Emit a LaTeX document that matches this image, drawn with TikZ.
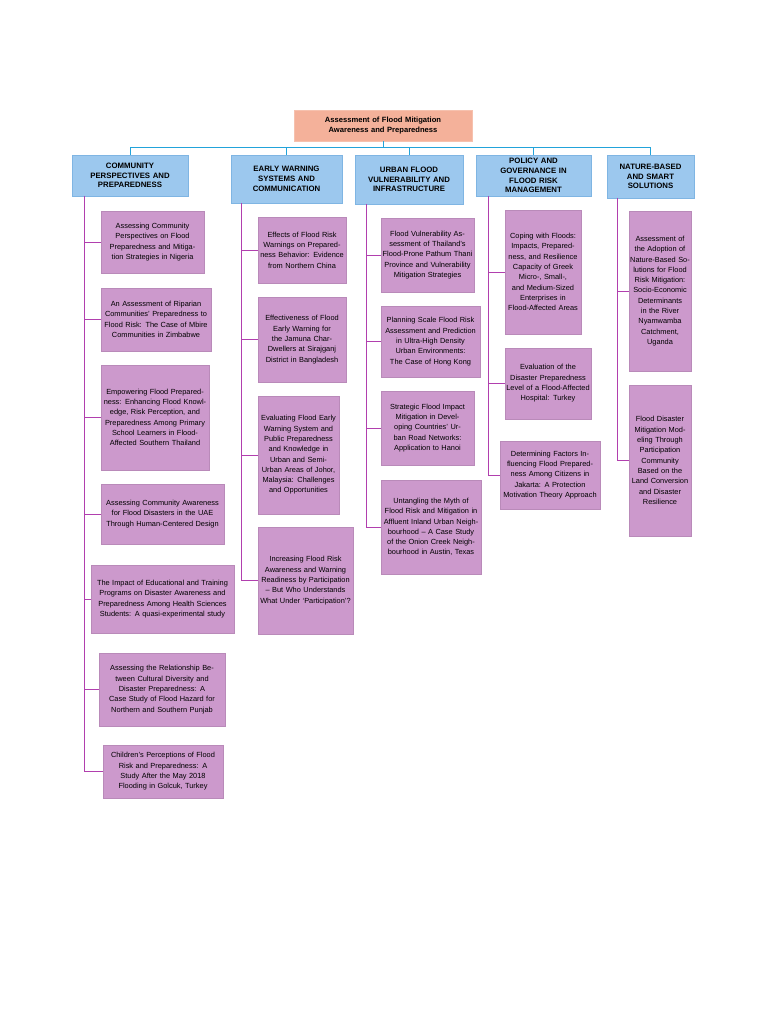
\documentclass[tikz,border=0pt]{standalone}
\usepackage{fontspec}
\setmainfont{Liberation Sans}
\definecolor{rootc}{HTML}{F4B19A}
\definecolor{headc}{HTML}{9CC8EE}
\definecolor{headb}{HTML}{7FB5E3}
\definecolor{kidc}{HTML}{CC99CC}
\definecolor{kidb}{HTML}{B98AB9}
\definecolor{linkb}{HTML}{22A3DA}
\definecolor{linkp}{HTML}{B13FAE}
\begin{document}
\begin{tikzpicture}[x=1pt,y=-1pt,
 root/.style={fill=rootc,draw=rootc!80!white,align=center,font=\fontsize{7.6}{9.5}\selectfont\bfseries,inner sep=1pt},
 head/.style={fill=headc,draw=headb,align=center,font=\fontsize{7.8}{9.8}\selectfont\bfseries,inner sep=1pt},
 kid/.style={fill=kidc,draw=kidb,align=center,font=\fontsize{7.4}{10.3}\selectfont,inner sep=1pt},
 bl/.style={draw=linkb,line width=1pt},
 pl/.style={draw=linkp,line width=0.9pt}]
\useasboundingbox (0,0) rectangle (768,1024);
\fill[white] (0,0) rectangle (768,1024);
\newcommand\bx[7]{\node[#1,anchor=center,text width=#4-#3-2pt,minimum width=#4-#3,minimum height=#6-#5] (#2) at ({(#3+#4)/2},{(#5+#6)/2}) {#7};}
\bx{root}{r}{294}{472}{110}{141}{Assessment of Flood Mitigation\\Awareness and Preparedness}
\bx{head}{h1}{72}{188}{155}{196}{COMMUNITY\\PERSPECTIVES AND\\PREPAREDNESS}
\bx{head}{h2}{231}{342}{155}{203}{EARLY WARNING\\SYSTEMS AND\\COMMUNICATION}
\bx{head}{h3}{355}{463}{155}{204}{URBAN FLOOD\\VULNERABILITY AND\\INFRASTRUCTURE}
\bx{head}{h4}{476}{591}{155}{196}{POLICY AND\\GOVERNANCE IN\\FLOOD RISK\\MANAGEMENT}
\bx{head}{h5}{607}{694}{155}{198}{NATURE-BASED\\AND SMART\\SOLUTIONS}
\coordinate (bus) at (0,148);
\foreach \h in {h1,h2,h3,h4,h5}{\draw[bl] (r.south) |- (bus -| \h.north) -- (\h.north);}
% column 1
\bx{kid}{a1}{101}{204}{211}{273}{Assessing Community Perspectives on Flood Preparedness and Mitigation Strategies in Nigeria}
\bx{kid}{a2}{101}{211}{288}{351}{An Assessment of Riparian Communities' Preparedness to Flood Risk: The Case of Mbire Communities in Zimbabwe}
\bx{kid}{a3}{101}{209}{365}{470}{Empowering Flood Preparedness: Enhancing Flood Knowledge, Risk Perception, and Preparedness Among Primary School Learners in Flood-Affected Southern Thailand}
\bx{kid}{a4}{101}{224}{484}{544}{Assessing Community Awareness for Flood Disasters in the UAE Through Human-Centered Design}
\bx{kid}{a5}{91}{234}{565}{633}{The Impact of Educational and Training Programs on Disaster Awareness and Preparedness Among Health Sciences Students: A quasi-experimental study}
\bx{kid}{a6}{99}{225}{653}{726}{Assessing the Relationship Between Cultural Diversity and Disaster Preparedness: A Case Study of Flood Hazard for Northern and Southern Punjab}
\bx{kid}{a7}{103}{223}{745}{798}{Children's Perceptions of Flood Risk and Preparedness: A Study After the May 2018 Flooding in Golcuk, Turkey}
% column 2
\bx{kid}{b1}{258}{346}{217}{283}{Effects of Flood Risk Warnings on Preparedness Behavior: Evidence from Northern China}
\bx{kid}{b2}{258}{346}{297}{382}{Effectiveness of Flood Early Warning for the Jamuna Char-Dwellers at Sirajganj District in Bangladesh}
\bx{kid}{b3}{258}{339}{396}{514}{Evaluating Flood Early Warning System and Public Preparedness and Knowledge in Urban and Semi-Urban Areas of Johor, Malaysia: Challenges and Opportunities}
\bx{kid}{b4}{258}{353}{527}{634}{Increasing Flood Risk Awareness and Warning Readiness by Participation -- But Who Understands What Under `Participation'?}
% column 3
\bx{kid}{c1}{381}{474}{218}{292}{Flood Vulnerability Assessment of Thailand's Flood-Prone Pathum Thani Province and Vulnerability Mitigation Strategies}
\bx{kid}{c2}{381}{480}{306}{377}{Planning Scale Flood Risk Assessment and Prediction in Ultra-High Density Urban Environments: The Case of Hong Kong}
\bx{kid}{c3}{381}{474}{391}{465}{Strategic Flood Impact Mitigation in Developing Countries' Urban Road Networks: Application to Hanoi}
\bx{kid}{c4}{381}{481}{480}{574}{Untangling the Myth of Flood Risk and Mitigation in Affluent Inland Urban Neighbourhood -- A Case Study of the Onion Creek Neighbourhood in Austin, Texas}
% column 4
\bx{kid}{d1}{505}{581}{210}{334}{Coping with Floods: Impacts, Preparedness, and Resilience Capacity of Greek Micro-, Small-, and Medium-Sized Enterprises in Flood-Affected Areas}
\bx{kid}{d2}{505}{591}{348}{419}{Evaluation of the Disaster Preparedness Level of a Flood-Affected Hospital: Turkey}
\bx{kid}{d3}{500}{600}{441}{509}{Determining Factors Influencing Flood Preparedness Among Citizens in Jakarta: A Protection Motivation Theory Approach}
% column 5
\bx{kid}{e1}{629}{691}{211}{371}{Assessment of the Adoption of Nature-Based Solutions for Flood Risk Mitigation: Socio-Economic Determinants in the River Nyamwamba Catchment, Uganda}
\bx{kid}{e2}{629}{691}{385}{536}{Flood Disaster Mitigation Modeling Through Participation Community Based on the Land Conversion and Disaster Resilience}
% spines
\coordinate (s1) at (84,196); \coordinate (s2) at (241,203); \coordinate (s3) at (366,204);
\coordinate (s4) at (488,196); \coordinate (s5) at (617,198);
\draw[pl] (s1) |- (a7.west); \foreach \k in {a1,a2,a3,a4,a5,a6}{\draw[pl] (s1 |- \k.west) -- (\k.west);}
\draw[pl] (s2) |- (b4.west); \foreach \k in {b1,b2,b3}{\draw[pl] (s2 |- \k.west) -- (\k.west);}
\draw[pl] (s3) |- (c4.west); \foreach \k in {c1,c2,c3}{\draw[pl] (s3 |- \k.west) -- (\k.west);}
\draw[pl] (s4) |- (d3.west); \foreach \k in {d1,d2}{\draw[pl] (s4 |- \k.west) -- (\k.west);}
\draw[pl] (s5) |- (e2.west); \draw[pl] (s5 |- e1.west) -- (e1.west);
\end{tikzpicture}
\end{document}
